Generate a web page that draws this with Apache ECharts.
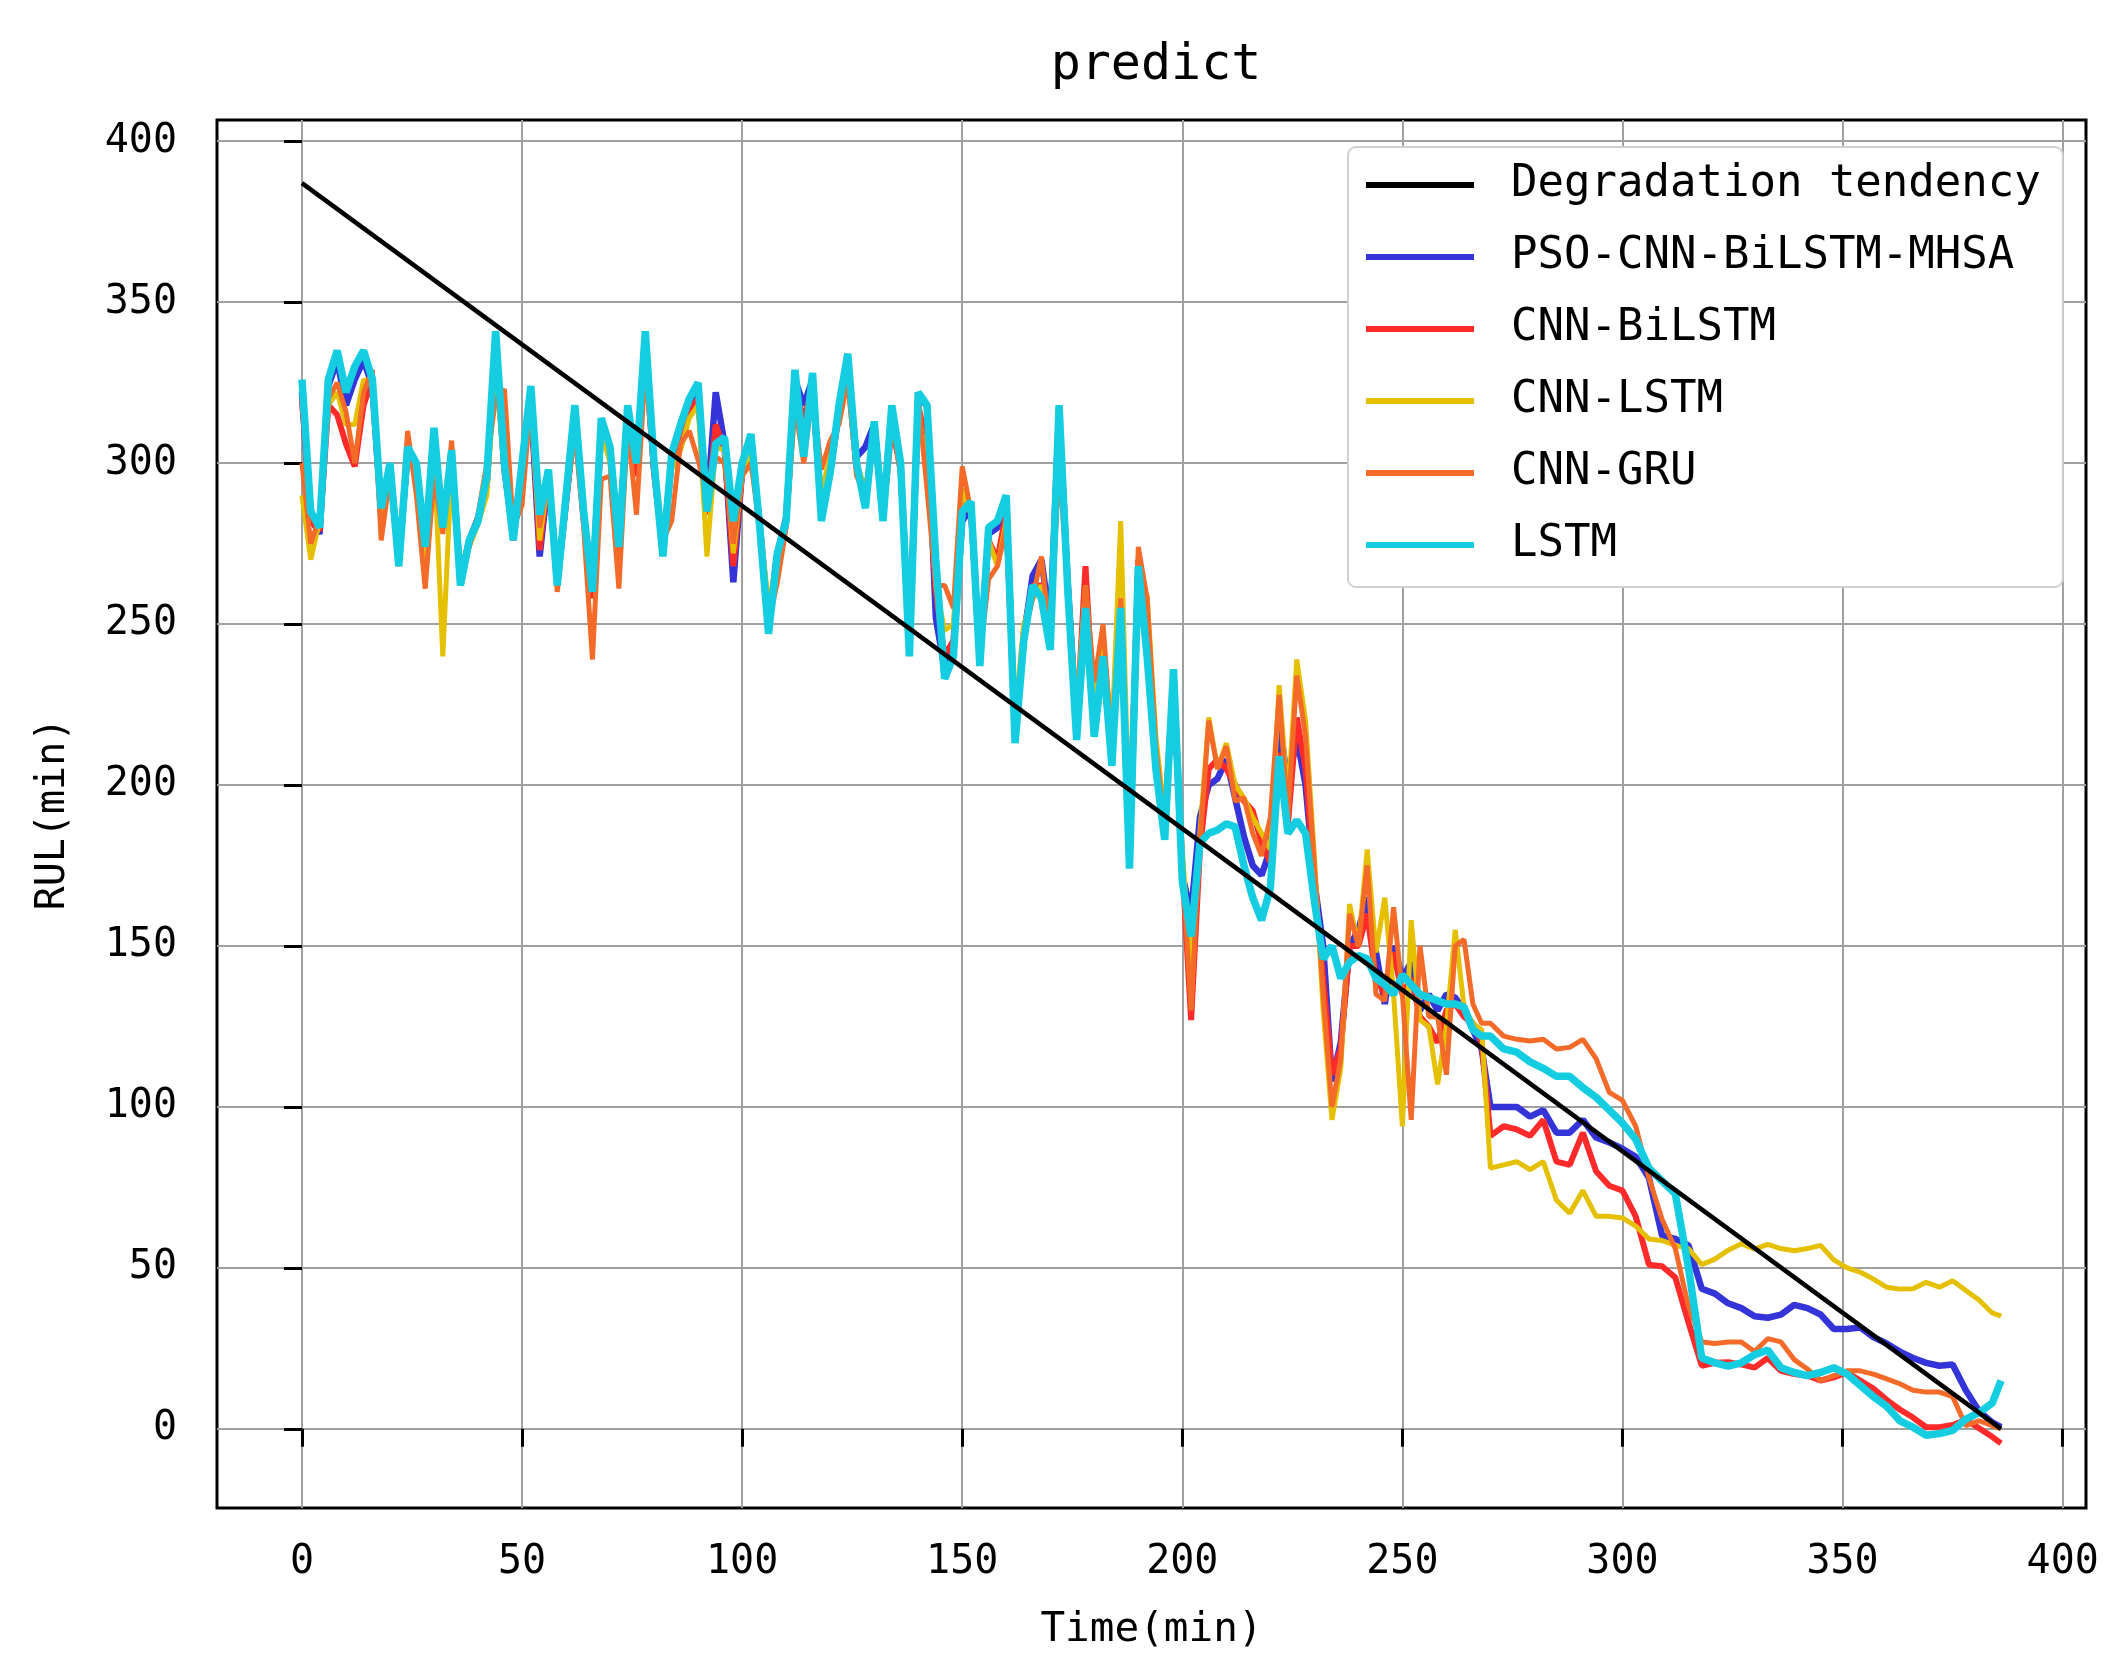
<!DOCTYPE html>
<html>
<head>
<meta charset="utf-8">
<title>predict</title>
<script src="https://cdn.jsdelivr.net/npm/echarts@6.0.0/dist/echarts.min.js"></script>
<style>
html, body { margin: 0; padding: 0; background: #fff; }
#main { width: 2120px; height: 1678px; }
</style>
</head>
<body>
<div id="main"></div>
<script>
// time axis (min), sampled every 2 min up to 270, then every 3 min
var timeMin = [0,2,4,6,8,10,12,14,16,18,20,22,24,26,28,30,32,34,36,38,40,42,44,46,48,50,52,54,56,58,60,62,64,66,68,70,
  72,74,76,78,80,82,84,86,88,90,92,94,96,98,100,102,104,106,108,110,112,114,116,118,120,122,124,126,128,130,132,134,136,138,140,
  142,144,146,148,150,152,154,156,158,160,162,164,166,168,170,172,174,176,178,180,182,184,186,188,190,192,194,196,198,200,
  202,204,206,208,210,212,214,216,218,220,222,224,226,228,230,232,234,236,238,240,242,244,246,248,250,252,254,256,258,260,262,264,266,268,270,
  273,276,279,282,285,288,291,294,297,300,303,306,309,312,315,318,321,324,327,330,333,336,339,342,345,348,351,354,357,360,363,366,369,372,375,378,381,384,386];

var trendTime = [0, 386];
var trendRUL = [387, 0];

var psoRUL = [322,283,278,324,332,318,326,332,324,284,298,270,303,298,272,308,281,301,264,276,283,294,338,298,278,298,320,271,296,264,288,315,283,262,312,303,
  276,316,298,336,298,273,301,310,318,322,286,322,306,263,298,306,281,250,272,283,326,318,326,284,297,316,330,302,305,312,284,316,300,243,320,
  318,252,236,242,282,286,240,278,280,288,216,246,265,270,250,316,262,218,256,218,242,210,256,178,266,242,208,186,234,172,
  160,190,200,202,208,196,184,175,172,180,220,200,215,200,170,150,108,120,150,155,165,148,132,150,140,145,130,135,130,135,134,130,124,118,100,
  100,100,97,99,92,92,96,90.5,89,87,84.5,78,60,59,57,43.5,42,39,37.5,35,34.5,35.5,38.5,37.5,35.5,31,31,31.5,28.5,26.5,24,22,20.5,19.6,20,12,5.5,2,0.5];

var bilstmRUL = [320,282,279,318,315,306,299,318,326,284,299,270,303,300,272,308,283,301,263,275,283,293,336,299,276,297,322,273,297,262,288,314,284,258,310,302,
  272,314,296,334,297,274,300,308,316,320,284,312,304,268,297,305,280,252,265,282,322,314,323,284,300,315,328,298,290,310,283,312,298,244,318,
  305,260,240,245,292,285,240,276,270,285,215,248,262,262,245,312,262,218,268,220,238,212,256,180,270,245,210,188,230,175,
  127,180,205,208,205,200,195,192,182,176,210,188,221,205,170,140,110,118,150,150,160,140,135,148,135,140,128,125,120,130,132,128,126,120,91,
  94,93,91,96,83,82,92,80,75.5,74,66,51,50.5,47,33,19.6,20.5,20.7,20,19,22,18,17,16.5,15,16,17.5,15,12.5,9,6,3.5,0.5,0.5,1.2,2.8,0.2,-2.5,-4.5];

var cnnLstmRUL = [290,270,282,318,322,312,312,326,324,282,296,268,301,298,270,304,240,300,265,274,281,290,330,297,280,299,318,276,296,263,288,312,283,262,310,300,
  276,312,300,328,302,276,298,304,314,318,271,305,304,272,296,303,282,256,270,281,318,310,320,290,303,314,326,300,292,308,286,312,300,250,316,
  300,262,248,250,292,284,242,276,268,282,222,250,258,262,250,308,262,222,262,225,245,215,282,185,262,259,215,190,232,180,
  140,185,221,205,213,200,196,190,185,180,231,195,239,220,178,130,96,112,163,150,180,148,165,135,94,158,127,125,107,125,155,131,126,124,81,
  82,83,80.5,83,71,67,74,66,66,65.5,63,59,58.5,57,56,51,52.7,55.5,57.5,55.8,57.3,56,55.3,56,57,52.5,50,48.7,46.5,44,43.4,43.5,45.5,44,46,43,40,36,35];

var gruRUL = [300,275,283,320,325,316,300,322,329,276,296,268,310,290,261,296,278,307,265,274,284,300,320,323,280,287,320,280,296,260,287,310,280,239,295,296,
  261,312,284,330,298,276,282,306,310,301,290,302,300,275,296,300,280,250,263,280,318,300,322,298,307,312,326,296,290,310,283,315,296,242,320,
  292,262,262,255,299,285,240,264,268,280,216,246,258,271,245,300,262,218,262,232,250,212,258,182,274,258,212,186,230,176,
  130,182,220,205,212,195,196,185,178,190,228,190,234,215,175,135,100,115,160,150,175,135,133,162,135,96,150,128,128,110,150,152,132,126,126,
  122,121,120.5,121,118,118.5,121,115,104.5,102,94,78,65,56,38,27,26.5,27,27,24,28,27,21.5,18.6,15,16.5,18,18,17,15.5,14,12,11.4,11.4,10,1,2.5,1,0];

var lstmRUL = [326,285,280,326,335,322,330,335,326,286,300,268,305,300,274,311,280,304,262,276,282,296,341,300,276,300,324,284,298,262,290,318,285,260,314,305,
  274,318,300,341,300,271,303,312,320,325,285,306,308,282,300,309,280,247,272,282,329,302,328,282,297,318,334,300,286,313,282,318,300,240,322,
  318,270,233,240,285,288,237,280,282,290,213,245,262,258,242,318,260,214,255,215,240,206,255,174,268,240,205,183,236,170,
  153,182,185,186,188,187,175,165,158,168,209,185,189,185,164,146,150,140,145,147,146,140,138,135,141,138,135,134,133,132,132,131,124,122,122,
  118,117,114,112,109.5,109.5,106,103,99,95,90,81,77,73,50,22,20.5,19.5,20.5,23,24.5,19,17.5,16.5,17.5,19,17,13.5,10,7,2.5,0.5,-2,-1.5,-0.5,3,5,8,15];

var xTicks = [0,50,100,150,200,250,300,350,400];
var yTicks = [0,50,100,150,200,250,300,350,400];

var seriesNames = ['Degradation tendency','PSO-CNN-BiLSTM-MHSA','CNN-BiLSTM','CNN-LSTM','CNN-GRU','LSTM'];
var seriesColors = ['#000000','#3434d8','#ff2a2a','#e4c000','#f46a28','#14cde0'];

var FONT = '"DejaVu Sans Mono", "Liberation Mono", monospace';

function pairs(xs, ys) {
    return ys.map(function (v, i) { return [xs[i], v]; });
}

function lineSeries(idx, xs, ys, width, z) {
    return {
        name: seriesNames[idx],
        type: 'line',
        data: pairs(xs, ys),
        showSymbol: false,
        symbol: 'none',
        z: z,
        lineStyle: { color: seriesColors[idx], width: width },
        itemStyle: { color: seriesColors[idx] }
    };
}

var option = {
    backgroundColor: '#ffffff',
    animation: false,
    title: {
        text: 'predict',
        left: 1151,
        textAlign: 'center',
        top: 36,
        textStyle: { fontFamily: FONT, fontSize: 50, fontWeight: 'normal', color: '#000' }
    },
    legend: {
        orient: 'vertical',
        left: 1348,
        top: 147,
        data: seriesNames,
        icon: 'rect',
        itemWidth: 108,
        itemHeight: 6,
        itemGap: 12,
        padding: [8, 22, 12, 18],
        backgroundColor: '#ffffff',
        borderColor: '#d0d0d0',
        borderWidth: 2,
        borderRadius: 8,
        textStyle: { fontFamily: FONT, fontSize: 44, lineHeight: 60, color: '#000', padding: [0, 0, 0, 32] }
    },
    grid: {
        left: 217,
        right: 34,
        top: 120,
        bottom: 170,
        show: true,
        borderColor: '#000',
        borderWidth: 3,
        backgroundColor: '#fff'
    },
    xAxis: {
        type: 'value',
        min: -19.3,
        max: 405.3,
        splitNumber: 8,
        name: 'Time(min)',
        nameLocation: 'middle',
        nameGap: 102,
        nameTextStyle: { fontFamily: FONT, fontSize: 41, color: '#000' },
        axisLine: { show: false },
        axisTick: { show: true, inside: false, length: 18, customValues: xTicks, lineStyle: { color: '#000', width: 3 } },
        axisLabel: { customValues: xTicks, margin: 35, fontFamily: FONT, fontSize: 40, color: '#000' },
        splitLine: { show: true, lineStyle: { color: '#a0a0a0', width: 2 } }
    },
    yAxis: {
        type: 'value',
        min: -24.6,
        max: 406.6,
        splitNumber: 8,
        name: 'RUL(min)',
        nameLocation: 'middle',
        nameGap: 143,
        nameTextStyle: { fontFamily: FONT, fontSize: 40, color: '#000' },
        axisLine: { show: false },
        axisTick: { show: true, inside: false, length: 18, customValues: yTicks, lineStyle: { color: '#000', width: 3 } },
        axisLabel: { customValues: yTicks, margin: 40, fontFamily: FONT, fontSize: 40, color: '#000' },
        splitLine: { show: true, lineStyle: { color: '#a0a0a0', width: 2 } }
    },
    series: [
        lineSeries(0, trendTime, trendRUL, 4.5, 9),
        lineSeries(1, timeMin, psoRUL, 6.5, 3),
        lineSeries(2, timeMin, bilstmRUL, 6, 4),
        lineSeries(3, timeMin, cnnLstmRUL, 5, 5),
        lineSeries(4, timeMin, gruRUL, 5, 6),
        lineSeries(5, timeMin, lstmRUL, 7.5, 7)
    ]
};

var myChart = echarts.init(document.getElementById('main'));
myChart.setOption(option);
</script>
</body>
</html>
